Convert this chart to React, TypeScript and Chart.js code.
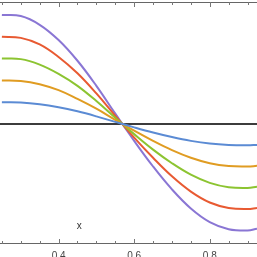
import React, { useEffect, useRef } from 'react';
import { Chart, registerables } from 'chart.js';

Chart.register(...registerables);

// x positions at which values were read
const xValues = [0.25, 0.3, 0.35, 0.4, 0.45, 0.5, 0.55, 0.6, 0.65, 0.7, 0.75, 0.8, 0.85, 0.9, 0.925];

const blueValues = [0.2, 0.198, 0.182, 0.154, 0.116, 0.07, 0.019, -0.031, -0.078, -0.12, -0.155, -0.18, -0.193, -0.196, -0.192];
const orangeValues = [0.4, 0.395, 0.365, 0.31, 0.23, 0.14, 0.038, -0.062, -0.155, -0.24, -0.31, -0.36, -0.386, -0.39, -0.384];
const greenValues = [0.6, 0.595, 0.545, 0.46, 0.35, 0.21, 0.057, -0.093, -0.235, -0.36, -0.465, -0.54, -0.58, -0.587, -0.576];
const redValues = [0.8, 0.79, 0.73, 0.615, 0.465, 0.28, 0.075, -0.125, -0.31, -0.48, -0.62, -0.72, -0.77, -0.78, -0.77];
const purpleValues = [1.0, 0.99, 0.91, 0.77, 0.58, 0.35, 0.095, -0.155, -0.39, -0.6, -0.775, -0.9, -0.965, -0.978, -0.96];

const seriesList = [blueValues, orangeValues, greenValues, redValues, purpleValues];
const seriesColors = ['#5B8BD4', '#E09C22', '#8CC431', '#E85A32', '#8A76D4'];

const minorTickValues = [0.25, 0.3, 0.35, 0.4, 0.45, 0.5, 0.55, 0.6, 0.65, 0.7, 0.75, 0.8, 0.85, 0.9];
const majorTickValues = [0.4, 0.6, 0.8];
const axisLabel = 'x';

const framePlugin = {
  id: 'framePlugin',
  beforeDatasetsDraw(chart: any) {
    const { ctx, chartArea, scales } = chart;
    const xs = scales.x;
    const ys = scales.y;
    ctx.save();
    // frame lines (top & bottom)
    ctx.strokeStyle = '#666666';
    ctx.lineWidth = 1;
    ctx.beginPath();
    ctx.moveTo(chartArea.left, chartArea.top + 0.5);
    ctx.lineTo(chartArea.right, chartArea.top + 0.5);
    ctx.moveTo(chartArea.left, chartArea.bottom - 0.5);
    ctx.lineTo(chartArea.right, chartArea.bottom - 0.5);
    ctx.stroke();
    // ticks
    ctx.strokeStyle = '#777777';
    for (const v of minorTickValues) {
      const major = majorTickValues.some((m) => Math.abs(m - v) < 1e-9);
      const len = major ? 5 : 3;
      const px = Math.round(xs.getPixelForValue(v)) + 0.5;
      ctx.beginPath();
      ctx.moveTo(px, chartArea.bottom);
      ctx.lineTo(px, chartArea.bottom - len);
      ctx.moveTo(px, chartArea.top);
      ctx.lineTo(px, chartArea.top + len);
      ctx.stroke();
    }
    // zero axis
    const y0 = ys.getPixelForValue(0);
    ctx.strokeStyle = '#3c3c3c';
    ctx.lineWidth = 2;
    ctx.beginPath();
    ctx.moveTo(chartArea.left, y0);
    ctx.lineTo(chartArea.right, y0);
    ctx.stroke();
    ctx.restore();
  },
  afterDraw(chart: any) {
    const { ctx, scales } = chart;
    const xs = scales.x;
    ctx.save();
    ctx.fillStyle = '#333333';
    ctx.font = '10px "Liberation Sans", sans-serif';
    ctx.textAlign = 'center';
    ctx.textBaseline = 'middle';
    ctx.fillText(axisLabel, xs.getPixelForValue(0.455), 226);
    ctx.restore();
  },
};

export default function App() {
  const canvasRef = useRef<HTMLCanvasElement | null>(null);

  useEffect(() => {
    document.body.style.margin = '0';
    const canvas = canvasRef.current;
    if (!canvas) return;
    const chart = new Chart(canvas, {
      type: 'line',
      data: {
        datasets: seriesList.map((vals, i) => ({
          data: xValues.map((x, j) => ({ x, y: vals[j] })),
          borderColor: seriesColors[i],
          borderWidth: 2,
          pointRadius: 0,
          fill: false,
          tension: 0.4,
        })),
      },
      options: {
        animation: false,
        responsive: false,
        devicePixelRatio: 1,
        layout: { padding: { top: 2, left: 0, right: 0, bottom: 0 } },
        plugins: { legend: { display: false }, tooltip: { enabled: false } },
        scales: {
          x: {
            type: 'linear',
            min: 0.245,
            max: 0.925,
            afterFit: (scale: any) => {
              scale.height = 13;
            },
            grid: { display: true, drawOnChartArea: false, drawTicks: false },
            border: { display: false },
            ticks: {
              stepSize: 0.2,
              includeBounds: false,
              maxRotation: 0,
              autoSkip: false,
              padding: 6,
              color: '#444444',
              font: { family: '"Liberation Sans", sans-serif', size: 10 },
              callback: (v: any) => Number(v).toFixed(1),
            },
          },
          y: {
            type: 'linear',
            display: false,
            min: -1.101,
            max: 1.119,
          },
        },
      },
      plugins: [framePlugin],
    });
    return () => chart.destroy();
  }, []);

  return (
    <div style={{ position: 'fixed', left: 0, top: 0, width: 257, height: 257, background: '#fff' }}>
      <canvas ref={canvasRef} width={257} height={257} />
    </div>
  );
}
